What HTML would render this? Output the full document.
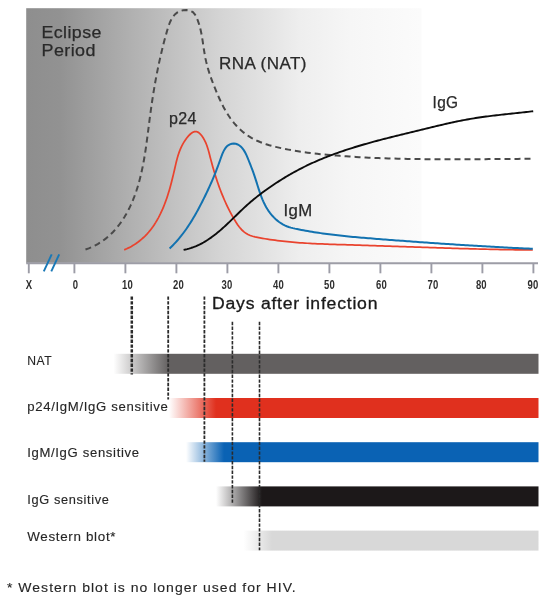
<!DOCTYPE html>
<html><head><meta charset="utf-8"><title>HIV test window periods</title>
<style>
html,body{margin:0;padding:0;background:#fff;}
svg{display:block;font-family:"Liberation Sans","DejaVu Sans",sans-serif;}
.lbl{font-size:15.7px;fill:#2a2a2a;stroke:#2a2a2a;stroke-width:0.25;letter-spacing:0.4px;}
.e{font-size:16.8px;}
.row{font-size:12.8px;fill:#262626;stroke:#262626;stroke-width:0.12;letter-spacing:0.65px;}
.tick{font-size:13.6px;font-weight:bold;fill:#2e2e2e;}
.vd{stroke:#2b2b2b;stroke-width:1.8;stroke-dasharray:3.4 1.4;fill:none;}
</style></head><body>
<svg width="550" height="605" viewBox="0 0 550 605">
<defs>
<linearGradient id="bg" gradientUnits="userSpaceOnUse" x1="0" x2="550" y1="0" y2="0">
<stop offset="0.0473" stop-color="#8e8e8e"/>
<stop offset="0.1091" stop-color="#929292"/>
<stop offset="0.2364" stop-color="#b0b0b0"/>
<stop offset="0.4000" stop-color="#d4d4d4"/>
<stop offset="0.5455" stop-color="#eeeeee"/>
<stop offset="0.6364" stop-color="#f6f6f6"/>
<stop offset="0.7636" stop-color="#fbfbfb"/>
</linearGradient>
<linearGradient id="gnat" gradientUnits="userSpaceOnUse" x1="113.5" x2="169" y1="0" y2="0"><stop offset="0" stop-color="#636060" stop-opacity="0"/><stop offset="1" stop-color="#636060"/></linearGradient>
<linearGradient id="gred" gradientUnits="userSpaceOnUse" x1="169" x2="216" y1="0" y2="0"><stop offset="0" stop-color="#e0301e" stop-opacity="0"/><stop offset="1" stop-color="#e0301e"/></linearGradient>
<linearGradient id="gblue" gradientUnits="userSpaceOnUse" x1="186" x2="224" y1="0" y2="0"><stop offset="0" stop-color="#0a62b4" stop-opacity="0"/><stop offset="1" stop-color="#0a62b4"/></linearGradient>
<linearGradient id="gblk" gradientUnits="userSpaceOnUse" x1="216" x2="262" y1="0" y2="0"><stop offset="0" stop-color="#1c1819" stop-opacity="0"/><stop offset="1" stop-color="#1c1819"/></linearGradient>
<linearGradient id="ggry" gradientUnits="userSpaceOnUse" x1="243.5" x2="272" y1="0" y2="0"><stop offset="0" stop-color="#d8d8d8" stop-opacity="0"/><stop offset="1" stop-color="#d8d8d8"/></linearGradient>
</defs>
<rect x="0" y="0" width="550" height="605" fill="#fff"/>
<rect x="26.2" y="8.2" width="395.3" height="254.6" fill="url(#bg)"/>
<line x1="26.2" y1="263.2" x2="538" y2="263.2" stroke="#9d9da6" stroke-width="2"/>
<g stroke="#9c9ca6" stroke-width="1.9"><line x1="28.8" y1="263" x2="28.8" y2="273.3" /><line x1="74.4" y1="263" x2="74.4" y2="273.3" /><line x1="125.4" y1="263" x2="125.4" y2="273.3" /><line x1="176.4" y1="263" x2="176.4" y2="273.3" /><line x1="227.4" y1="263" x2="227.4" y2="273.3" /><line x1="278.4" y1="263" x2="278.4" y2="273.3" /><line x1="329.4" y1="263" x2="329.4" y2="273.3" /><line x1="380.4" y1="263" x2="380.4" y2="273.3" /><line x1="431.4" y1="263" x2="431.4" y2="273.3" /><line x1="482.4" y1="263" x2="482.4" y2="273.3" /><line x1="533.4" y1="263" x2="533.4" y2="273.3" /></g>
<g class="tick"><text transform="translate(28.8,288.9) scale(0.7,1)" text-anchor="middle">X</text><text transform="translate(75.4,288.9) scale(0.7,1)" text-anchor="middle">0</text><text transform="translate(127.4,288.9) scale(0.7,1)" text-anchor="middle">10</text><text transform="translate(178.4,288.9) scale(0.7,1)" text-anchor="middle">20</text><text transform="translate(226.9,288.9) scale(0.7,1)" text-anchor="middle">30</text><text transform="translate(278.4,288.9) scale(0.7,1)" text-anchor="middle">40</text><text transform="translate(329.4,288.9) scale(0.7,1)" text-anchor="middle">50</text><text transform="translate(381.4,288.9) scale(0.7,1)" text-anchor="middle">60</text><text transform="translate(432.9,288.9) scale(0.7,1)" text-anchor="middle">70</text><text transform="translate(481.2,288.9) scale(0.7,1)" text-anchor="middle">80</text><text transform="translate(532.9,288.9) scale(0.7,1)" text-anchor="middle">90</text></g>
<g stroke="#1878b6" stroke-width="1.9" stroke-linecap="butt"><line x1="43.8" y1="271.4" x2="51.7" y2="254.3"/><line x1="51.3" y1="271.4" x2="59.2" y2="254.3"/></g>
<path d="M85.48,249.49 L88.71,248.33 L91.82,247.03 L94.82,245.59 L97.71,244.02 L100.49,242.33 L103.16,240.52 L105.73,238.59 L108.19,236.56 L110.55,234.43 L112.82,232.20 L114.98,229.87 L117.06,227.46 L119.04,224.97 L120.93,222.40 L122.74,219.75 L124.46,217.04 L126.10,214.27 L127.65,211.45 L129.13,208.57 L130.53,205.65 L131.86,202.69 L133.12,199.69 L134.31,196.66 L135.42,193.60 L136.48,190.53 L137.47,187.44 L138.40,184.33 L139.28,181.21 L140.10,178.07 L140.88,174.92 L141.60,171.75 L142.29,168.58 L142.93,165.39 L143.54,162.20 L144.11,159.00 L144.65,155.79 L145.17,152.57 L145.66,149.35 L146.12,146.13 L146.57,142.91 L147.01,139.68 L147.43,136.45 L147.84,133.23 L148.25,130.01 L148.66,126.79 L149.06,123.57 L149.47,120.36 L149.89,117.16 L150.31,113.96 L150.75,110.78 L151.19,107.59 L151.65,104.42 L152.12,101.24 L152.61,98.07 L153.10,94.91 L153.61,91.75 L154.14,88.58 L154.68,85.42 L155.24,82.26 L155.81,79.10 L156.41,75.94 L157.02,72.78 L157.65,69.61 L158.30,66.44 L158.97,63.26 L159.66,60.09 L160.38,56.90 L161.12,53.71 L161.88,50.51 L162.66,47.31 L163.47,44.09 L164.31,40.87 L165.17,37.64 L166.06,34.40 L166.98,31.14 L167.94,27.90 L169.00,24.74 L170.20,21.72 L171.59,18.91 L173.22,16.37 L175.14,14.17 L177.40,12.37 L180.04,11.04 L183.11,10.24 L186.58,10.06 L190.01,10.63 L192.90,12.13 L195.02,14.52 L196.59,17.45 L197.85,20.58 L198.92,23.73 L199.84,26.90 L200.63,30.08 L201.32,33.27 L201.91,36.46 L202.44,39.66 L202.93,42.86 L203.40,46.05 L203.87,49.24 L204.37,52.42 L204.91,55.59 L205.52,58.75 L206.22,61.89 L207.00,65.01 L207.85,68.11 L208.78,71.20 L209.77,74.28 L210.81,77.34 L211.91,80.40 L213.06,83.44 L214.25,86.46 L215.47,89.48 L216.72,92.49 L218.01,95.49 L219.33,98.47 L220.70,101.42 L222.12,104.34 L223.61,107.22 L225.17,110.05 L226.81,112.84 L228.53,115.56 L230.35,118.23 L232.27,120.82 L234.30,123.33 L236.44,125.75 L238.68,128.08 L241.03,130.29 L243.48,132.39 L246.03,134.35 L248.67,136.18 L251.41,137.85 L254.23,139.38 L257.13,140.77 L260.10,142.03 L263.13,143.18 L266.21,144.23 L269.33,145.19 L272.48,146.06 L275.65,146.87 L278.84,147.63 L282.02,148.34 L285.22,149.01 L288.41,149.63 L291.60,150.22 L294.80,150.78 L298.00,151.30 L301.20,151.79 L304.40,152.24 L307.61,152.67 L310.82,153.08 L314.03,153.46 L317.24,153.81 L320.45,154.15 L323.66,154.47 L326.88,154.77 L330.10,155.06 L333.31,155.33 L336.53,155.59 L339.76,155.84 L342.98,156.08 L346.20,156.31 L349.43,156.53 L352.65,156.74 L355.88,156.94 L359.11,157.13 L362.34,157.31 L365.57,157.48 L368.80,157.64 L372.03,157.79 L375.27,157.93 L378.50,158.06 L381.74,158.19 L384.97,158.31 L388.21,158.41 L391.45,158.52 L394.69,158.61 L397.93,158.70 L401.17,158.78 L404.41,158.85 L407.65,158.92 L410.89,158.98 L414.13,159.03 L417.37,159.08 L420.61,159.12 L423.86,159.16 L427.10,159.19 L430.34,159.22 L433.59,159.24 L436.83,159.26 L440.07,159.27 L443.32,159.28 L446.56,159.29 L449.80,159.29 L453.05,159.29 L456.29,159.28 L459.53,159.28 L462.78,159.26 L466.02,159.25 L469.26,159.24 L472.50,159.22 L475.75,159.20 L478.99,159.18 L482.23,159.16 L485.47,159.13 L488.71,159.11 L491.95,159.09 L495.19,159.06 L498.43,159.04 L501.67,159.01 L504.90,158.98 L508.14,158.96 L511.38,158.93 L514.61,158.91 L517.84,158.89 L521.08,158.87 L524.31,158.85 L527.54,158.83 L530.77,158.82 L534.00,158.80" fill="none" stroke="#4a4a4a" stroke-width="2" stroke-dasharray="6 4"/>
<path d="M124.18,249.90 L126.66,248.82 L129.05,247.66 L131.35,246.42 L133.57,245.11 L135.71,243.72 L137.77,242.27 L139.75,240.75 L141.65,239.16 L143.48,237.52 L145.24,235.81 L146.94,234.04 L148.56,232.22 L150.12,230.35 L151.61,228.42 L153.05,226.45 L154.42,224.43 L155.74,222.37 L157.00,220.26 L158.21,218.11 L159.37,215.93 L160.48,213.71 L161.54,211.46 L162.56,209.18 L163.53,206.87 L164.46,204.54 L165.35,202.18 L166.21,199.81 L167.03,197.41 L167.82,194.99 L168.57,192.57 L169.30,190.13 L170.00,187.68 L170.68,185.22 L171.33,182.76 L171.97,180.30 L172.58,177.83 L173.18,175.37 L173.76,172.91 L174.33,170.46 L174.88,168.02 L175.44,165.59 L176.00,163.17 L176.59,160.77 L177.21,158.38 L177.89,156.02 L178.63,153.67 L179.45,151.35 L180.36,149.06 L181.37,146.79 L182.50,144.55 L183.77,142.34 L185.19,140.17 L186.76,138.03 L188.51,135.94 L190.40,134.03 L192.38,132.51 L194.39,131.62 L196.38,131.56 L198.30,132.36 L200.12,133.84 L201.79,135.79 L203.29,138.01 L204.59,140.31 L205.71,142.65 L206.67,145.03 L207.51,147.44 L208.25,149.87 L208.93,152.32 L209.57,154.76 L210.19,157.21 L210.83,159.64 L211.48,162.07 L212.14,164.49 L212.81,166.89 L213.50,169.29 L214.20,171.68 L214.92,174.06 L215.66,176.44 L216.42,178.80 L217.20,181.16 L218.00,183.50 L218.82,185.84 L219.67,188.18 L220.54,190.50 L221.44,192.82 L222.37,195.13 L223.32,197.43 L224.30,199.72 L225.32,202.01 L226.37,204.29 L227.44,206.57 L228.56,208.84 L229.71,211.10 L230.89,213.35 L232.11,215.60 L233.38,217.84 L234.68,220.08 L236.03,222.29 L237.44,224.44 L238.93,226.51 L240.52,228.46 L242.20,230.27 L244.01,231.90 L245.95,233.33 L248.03,234.52 L250.25,235.48 L252.59,236.25 L255.01,236.87 L257.49,237.39 L259.98,237.86 L262.47,238.31 L264.97,238.74 L267.46,239.14 L269.96,239.52 L272.45,239.88 L274.95,240.23 L277.44,240.55 L279.94,240.86 L282.43,241.15 L284.93,241.42 L287.43,241.68 L289.92,241.93 L292.42,242.15 L294.92,242.37 L297.42,242.57 L299.91,242.76 L302.41,242.93 L304.91,243.10 L307.41,243.25 L309.91,243.40 L312.41,243.53 L314.91,243.66 L317.41,243.78 L319.91,243.89 L322.41,243.99 L324.91,244.09 L327.41,244.18 L329.91,244.27 L332.41,244.35 L334.91,244.43 L337.41,244.51 L339.92,244.59 L342.42,244.66 L344.92,244.74 L347.42,244.81 L349.93,244.88 L352.43,244.96 L354.93,245.03 L357.43,245.11 L359.94,245.19 L362.44,245.27 L364.94,245.35 L367.45,245.43 L369.95,245.51 L372.46,245.59 L374.96,245.67 L377.46,245.76 L379.97,245.84 L382.47,245.93 L384.98,246.01 L387.48,246.10 L389.99,246.18 L392.49,246.27 L395.00,246.35 L397.50,246.44 L400.01,246.53 L402.51,246.61 L405.02,246.70 L407.52,246.78 L410.03,246.87 L412.54,246.96 L415.04,247.04 L417.55,247.13 L420.05,247.22 L422.56,247.30 L425.06,247.39 L427.57,247.47 L430.08,247.56 L432.58,247.64 L435.09,247.72 L437.59,247.80 L440.10,247.89 L442.61,247.97 L445.11,248.05 L447.62,248.13 L450.13,248.21 L452.63,248.28 L455.14,248.36 L457.64,248.44 L460.15,248.51 L462.66,248.59 L465.16,248.66 L467.67,248.73 L470.17,248.80 L472.68,248.87 L475.19,248.94 L477.69,249.00 L480.20,249.07 L482.70,249.13 L485.21,249.19 L487.71,249.25 L490.22,249.31 L492.73,249.37 L495.23,249.42 L497.74,249.47 L500.24,249.53 L502.75,249.57 L505.25,249.62 L507.76,249.67 L510.26,249.71 L512.77,249.75 L515.27,249.79 L517.78,249.83 L520.28,249.86 L522.78,249.89 L525.29,249.92 L527.79,249.95 L530.30,249.98 L532.80,250.00" fill="none" stroke="#e9432e" stroke-width="1.75"/>
<path d="M169.60,248.40 L171.16,246.94 L172.70,245.44 L174.20,243.90 L175.67,242.33 L177.12,240.72 L178.53,239.09 L179.92,237.42 L181.29,235.73 L182.62,234.01 L183.93,232.26 L185.22,230.50 L186.48,228.70 L187.72,226.89 L188.94,225.06 L190.13,223.22 L191.30,221.36 L192.45,219.48 L193.58,217.59 L194.70,215.69 L195.79,213.78 L196.86,211.87 L197.91,209.94 L198.95,208.02 L199.97,206.09 L200.97,204.16 L201.96,202.23 L202.93,200.30 L203.89,198.38 L204.84,196.46 L205.77,194.54 L206.69,192.62 L207.60,190.70 L208.49,188.78 L209.37,186.86 L210.24,184.92 L211.10,182.98 L211.95,181.03 L212.80,179.06 L213.63,177.08 L214.45,175.08 L215.26,173.07 L216.07,171.03 L216.86,168.97 L217.65,166.88 L218.44,164.77 L219.21,162.63 L219.98,160.46 L220.75,158.25 L221.53,156.05 L222.36,153.89 L223.26,151.82 L224.27,149.88 L225.40,148.12 L226.70,146.58 L228.19,145.30 L229.89,144.33 L231.79,143.72 L233.78,143.54 L235.78,143.79 L237.69,144.46 L239.44,145.47 L241.02,146.79 L242.46,148.36 L243.76,150.15 L244.94,152.11 L246.02,154.19 L247.01,156.35 L247.94,158.56 L248.81,160.75 L249.65,162.90 L250.46,164.97 L251.24,166.99 L252.00,168.97 L252.74,170.93 L253.46,172.88 L254.15,174.84 L254.82,176.83 L255.47,178.84 L256.12,180.87 L256.76,182.92 L257.40,184.97 L258.04,187.03 L258.71,189.10 L259.39,191.16 L260.09,193.22 L260.83,195.27 L261.60,197.30 L262.41,199.32 L263.27,201.32 L264.19,203.29 L265.17,205.23 L266.21,207.14 L267.32,209.01 L268.51,210.84 L269.78,212.62 L271.14,214.35 L272.59,216.03 L274.11,217.63 L275.71,219.16 L277.39,220.61 L279.13,221.95 L280.93,223.20 L282.80,224.33 L284.72,225.34 L286.69,226.22 L288.71,226.97 L290.77,227.60 L292.86,228.15 L294.96,228.64 L297.09,229.08 L299.21,229.51 L301.34,229.93 L303.47,230.33 L305.60,230.72 L307.74,231.09 L309.87,231.46 L312.01,231.82 L314.15,232.16 L316.29,232.50 L318.44,232.82 L320.59,233.13 L322.73,233.44 L324.88,233.73 L327.03,234.02 L329.19,234.30 L331.34,234.57 L333.49,234.83 L335.65,235.08 L337.81,235.33 L339.97,235.57 L342.13,235.80 L344.29,236.03 L346.45,236.25 L348.61,236.47 L350.77,236.68 L352.94,236.88 L355.10,237.08 L357.27,237.28 L359.43,237.47 L361.60,237.66 L363.77,237.84 L365.93,238.02 L368.10,238.20 L370.27,238.37 L372.44,238.55 L374.61,238.72 L376.77,238.89 L378.94,239.06 L381.11,239.22 L383.28,239.39 L385.44,239.56 L387.61,239.72 L389.78,239.89 L391.94,240.05 L394.11,240.22 L396.28,240.38 L398.44,240.54 L400.61,240.70 L402.78,240.87 L404.94,241.03 L407.11,241.19 L409.27,241.35 L411.44,241.51 L413.60,241.66 L415.77,241.82 L417.94,241.98 L420.10,242.13 L422.27,242.29 L424.43,242.44 L426.60,242.60 L428.76,242.75 L430.93,242.90 L433.09,243.05 L435.26,243.20 L437.42,243.35 L439.59,243.50 L441.75,243.65 L443.92,243.79 L446.08,243.94 L448.25,244.08 L450.41,244.22 L452.58,244.37 L454.74,244.51 L456.91,244.65 L459.07,244.79 L461.24,244.93 L463.40,245.06 L465.57,245.20 L467.73,245.34 L469.90,245.47 L472.07,245.60 L474.23,245.73 L476.40,245.86 L478.56,245.99 L480.73,246.12 L482.90,246.25 L485.07,246.37 L487.23,246.50 L489.40,246.62 L491.57,246.74 L493.74,246.86 L495.90,246.98 L498.07,247.10 L500.24,247.22 L502.41,247.33 L504.58,247.45 L506.75,247.56 L508.92,247.67 L511.09,247.78 L513.26,247.89 L515.43,248.00 L517.60,248.10 L519.77,248.20 L521.94,248.31 L524.11,248.41 L526.28,248.51 L528.45,248.61 L530.63,248.70 L532.80,248.80" fill="none" stroke="#1272b0" stroke-width="2"/>
<path d="M183.60,249.91 L185.41,249.52 L187.18,249.09 L188.93,248.61 L190.64,248.09 L192.33,247.52 L193.99,246.91 L195.62,246.26 L197.23,245.57 L198.82,244.85 L200.38,244.09 L201.91,243.29 L203.43,242.46 L204.92,241.59 L206.39,240.70 L207.85,239.78 L209.29,238.82 L210.70,237.85 L212.11,236.84 L213.49,235.81 L214.87,234.76 L216.22,233.69 L217.57,232.60 L218.90,231.48 L220.23,230.36 L221.54,229.21 L222.84,228.05 L224.14,226.88 L225.43,225.69 L226.71,224.50 L227.98,223.29 L229.26,222.08 L230.52,220.86 L231.79,219.64 L233.05,218.41 L234.32,217.18 L235.58,215.95 L236.85,214.72 L238.11,213.49 L239.38,212.26 L240.65,211.04 L241.93,209.82 L243.21,208.61 L244.50,207.41 L245.80,206.22 L247.10,205.04 L248.42,203.88 L249.74,202.72 L251.08,201.58 L252.42,200.45 L253.77,199.33 L255.13,198.22 L256.50,197.13 L257.88,196.04 L259.26,194.97 L260.65,193.91 L262.06,192.85 L263.46,191.81 L264.88,190.77 L266.30,189.74 L267.73,188.72 L269.17,187.71 L270.61,186.71 L272.06,185.72 L273.52,184.73 L274.98,183.75 L276.45,182.79 L277.93,181.83 L279.41,180.88 L280.90,179.93 L282.40,179.00 L283.90,178.08 L285.40,177.17 L286.91,176.26 L288.43,175.37 L289.95,174.49 L291.48,173.61 L293.02,172.75 L294.56,171.90 L296.10,171.06 L297.65,170.22 L299.20,169.40 L300.76,168.59 L302.33,167.79 L303.90,167.00 L305.47,166.23 L307.05,165.46 L308.63,164.70 L310.22,163.96 L311.81,163.22 L313.40,162.50 L315.00,161.79 L316.60,161.08 L318.21,160.39 L319.82,159.71 L321.44,159.03 L323.06,158.37 L324.68,157.71 L326.30,157.06 L327.93,156.43 L329.57,155.80 L331.20,155.17 L332.84,154.56 L334.49,153.96 L336.13,153.36 L337.78,152.77 L339.43,152.19 L341.09,151.62 L342.75,151.05 L344.41,150.49 L346.07,149.94 L347.73,149.40 L349.40,148.86 L351.07,148.33 L352.75,147.80 L354.42,147.28 L356.10,146.77 L357.78,146.26 L359.46,145.75 L361.15,145.26 L362.83,144.77 L364.52,144.28 L366.21,143.80 L367.90,143.32 L369.60,142.85 L371.29,142.38 L372.99,141.91 L374.68,141.45 L376.38,141.00 L378.08,140.54 L379.78,140.09 L381.49,139.65 L383.19,139.20 L384.89,138.76 L386.60,138.33 L388.31,137.89 L390.01,137.46 L391.72,137.03 L393.43,136.60 L395.14,136.17 L396.84,135.75 L398.55,135.33 L400.26,134.91 L401.97,134.49 L403.68,134.07 L405.39,133.65 L407.10,133.23 L408.81,132.82 L410.52,132.40 L412.23,131.98 L413.94,131.57 L415.65,131.15 L417.36,130.73 L419.06,130.32 L420.77,129.90 L422.48,129.48 L424.18,129.06 L425.89,128.64 L427.60,128.23 L429.30,127.81 L431.01,127.40 L432.71,126.99 L434.42,126.58 L436.12,126.17 L437.83,125.76 L439.53,125.36 L441.24,124.96 L442.95,124.56 L444.66,124.17 L446.37,123.78 L448.08,123.39 L449.79,123.01 L451.50,122.64 L453.21,122.27 L454.92,121.90 L456.64,121.54 L458.35,121.19 L460.07,120.85 L461.79,120.51 L463.51,120.17 L465.23,119.85 L466.96,119.53 L468.68,119.22 L470.41,118.92 L472.14,118.62 L473.87,118.34 L475.60,118.06 L477.34,117.79 L479.08,117.53 L480.81,117.28 L482.55,117.03 L484.30,116.79 L486.04,116.56 L487.78,116.33 L489.53,116.11 L491.28,115.89 L493.02,115.68 L494.77,115.47 L496.52,115.27 L498.27,115.07 L500.02,114.87 L501.77,114.67 L503.52,114.48 L505.27,114.29 L507.02,114.10 L508.77,113.91 L510.52,113.73 L512.27,113.54 L514.02,113.36 L515.77,113.17 L517.52,112.98 L519.26,112.79 L521.01,112.60 L522.76,112.41 L524.50,112.22 L526.24,112.02 L527.98,111.82 L529.72,111.62 L531.46,111.41 L533.20,111.20" fill="none" stroke="#0c0c0c" stroke-width="1.9"/>
<text class="lbl e" x="41.5" y="38.2" textLength="60.3" lengthAdjust="spacingAndGlyphs">Eclipse</text>
<text class="lbl e" x="41.5" y="56.3" textLength="54.4" lengthAdjust="spacingAndGlyphs">Period</text>
<text class="lbl" x="219" y="68.8" textLength="87.9" lengthAdjust="spacingAndGlyphs">RNA (NAT)</text>
<text class="lbl" x="168.9" y="124.2" textLength="28" lengthAdjust="spacingAndGlyphs">p24</text>
<text class="lbl" x="283.5" y="215.8" textLength="29.2" lengthAdjust="spacingAndGlyphs">IgM</text>
<text class="lbl" x="432.5" y="108.3" textLength="26" lengthAdjust="spacingAndGlyphs">IgG</text>
<text x="212" y="308.6" textLength="166.2" lengthAdjust="spacingAndGlyphs" style="font-size:16px;letter-spacing:0.7px;fill:#1a1a1a;stroke:#1a1a1a;stroke-width:0.3">Days after infection</text>

<rect x="113" y="353.8" width="425.5" height="20" fill="url(#gnat)"/>
<rect x="169" y="398" width="369.5" height="20" fill="url(#gred)"/>
<rect x="186" y="442.2" width="352.5" height="20" fill="url(#gblue)"/>
<rect x="216" y="486.4" width="322.5" height="20" fill="url(#gblk)"/>
<rect x="243.5" y="530.6" width="295" height="20" fill="url(#ggry)"/>

<path class="vd" d="M131.8,296.4V374.4" style="stroke-width:2.5"/>
<path class="vd" d="M168.2,296.4V399.6"/>
<path class="vd" d="M204.4,296.4V461.8"/>
<path class="vd" d="M232.4,321.8V503" style="stroke-width:1.6"/>
<path class="vd" d="M259.5,321.8V550.2" style="stroke-width:1.6"/>

<text class="row" x="27.2" y="365.2" textLength="25.2" lengthAdjust="spacingAndGlyphs">NAT</text>
<text class="row" x="27.2" y="411" textLength="141.3" lengthAdjust="spacingAndGlyphs">p24/IgM/IgG sensitive</text>
<text class="row" x="27.2" y="456.8" textLength="112.5" lengthAdjust="spacingAndGlyphs">IgM/IgG sensitive</text>
<text class="row" x="27.2" y="503.6" textLength="82.4" lengthAdjust="spacingAndGlyphs">IgG sensitive</text>
<text class="row" x="27.2" y="541.1" textLength="89" lengthAdjust="spacingAndGlyphs">Western blot*</text>
<text class="row" x="7" y="591.7" textLength="289.6" lengthAdjust="spacingAndGlyphs" style="font-size:13.2px;letter-spacing:0.95px">* Western blot is no longer used for HIV.</text>
</svg>
</body></html>
